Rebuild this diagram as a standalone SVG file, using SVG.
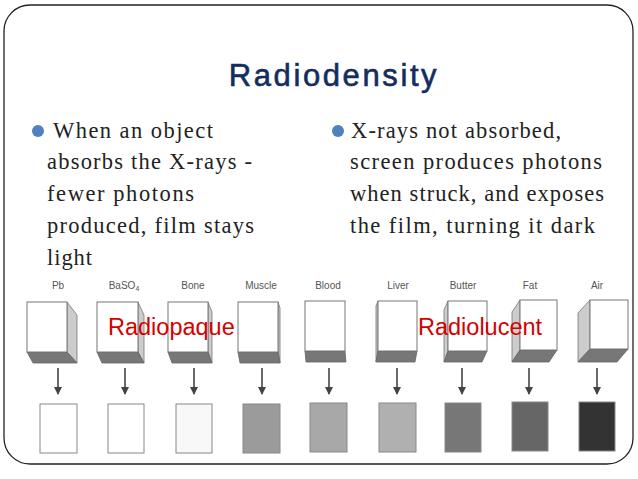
<svg xmlns="http://www.w3.org/2000/svg" width="638" height="479" viewBox="0 0 638 479">
<style>
.b{font-family:"Liberation Serif",serif;font-size:22.5px;fill:#222}
.lab{font-family:"Liberation Sans",sans-serif;font-size:10px;fill:#555;text-anchor:middle}
.red{font-family:"Liberation Sans",sans-serif;font-size:23.5px;fill:#d40000}
.fr{fill:#fff;stroke:#777;stroke-width:1}
.sd{fill:#ccc;stroke:#777;stroke-width:0.8}
.bt{fill:#777;stroke:#666;stroke-width:0.8}
.film{stroke:#888;stroke-width:1}
.ar{stroke:#444;stroke-width:1.6;marker-end:url(#ah)}
</style>
<defs><marker id="ah" markerWidth="8" markerHeight="8" refX="7" refY="4" orient="auto" markerUnits="userSpaceOnUse" viewBox="0 0 8 8"><path d="M0,0 L8,4 L0,8 z" fill="#444"/></marker></defs>
<rect width="638" height="479" fill="#fff"/>
<rect x="4" y="5" width="629" height="459" rx="26" fill="none" stroke="#222" stroke-width="1.3"/>
<text x="334" y="86" text-anchor="middle" font-family="Liberation Sans,sans-serif" font-size="31" fill="#132d5e" stroke="#132d5e" stroke-width="0.6" letter-spacing="2.6">Radiodensity</text>
<circle cx="38" cy="131" r="6" fill="#4f81bd"/>
<text class="b" x="53" y="138" textLength="160">When an object</text>
<text class="b" x="47" y="169" textLength="205">absorbs the X-rays -</text>
<text class="b" x="47" y="201" textLength="147">fewer photons</text>
<text class="b" x="47" y="233" textLength="207">produced, film stays</text>
<text class="b" x="47" y="265" textLength="45">light</text>
<circle cx="338" cy="131" r="6" fill="#4f81bd"/>
<text class="b" x="351" y="138" textLength="210">X-rays not absorbed,</text>
<text class="b" x="350" y="169" textLength="252">screen produces photons</text>
<text class="b" x="350" y="201" textLength="254">when struck, and exposes</text>
<text class="b" x="350" y="233" textLength="245">the film, turning it dark</text>
<g id="labels">
<text class="lab" x="58" y="289">Pb</text>
<text class="lab" x="124" y="289">BaSO<tspan font-size="7" dy="2">4</tspan></text>
<text class="lab" x="193" y="289">Bone</text>
<text class="lab" x="261" y="289">Muscle</text>
<text class="lab" x="328" y="289">Blood</text>
<text class="lab" x="398" y="289">Liver</text>
<text class="lab" x="463" y="289">Butter</text>
<text class="lab" x="530" y="289">Fat</text>
<text class="lab" x="597" y="289">Air</text>
</g>
<g id="cubes">
<g id="cube-pb"><path class="sd" d="M67,302 L77,315 L77,363 L67,352z"/><path class="bt" d="M27,352 L67,352 L77,363 L33,363z"/><rect class="fr" x="27" y="302" width="40" height="50"/></g>
<g id="cube-baso4"><path class="sd" d="M138,302 L144,315 L144,363 L138,352z"/><path class="bt" d="M97,352 L138,352 L144,363 L102,363z"/><rect class="fr" x="97" y="302" width="41" height="50"/></g>
<g id="cube-bone"><path class="sd" d="M208,302 L212,312 L212,363 L208,352z"/><path class="bt" d="M168,352 L208,352 L212,363 L172,363z"/><rect class="fr" x="168" y="302" width="40" height="50"/></g>
<g id="cube-muscle"><path class="sd" d="M278,302 L280,308 L280,363 L278,352z"/><path class="bt" d="M238,352 L278,352 L280,363 L240,363z"/><rect class="fr" x="238" y="302" width="40" height="50"/></g>
<g id="cube-blood"><path class="bt" d="M305,351 L345,351 L346,362 L306,362z"/><rect class="fr" x="305" y="301" width="40" height="50"/></g>
<g id="cube-liver"><path class="sd" d="M378,301 L376,306 L376,362 L378,351z"/><path class="bt" d="M378,351 L417,351 L415,362 L376,362z"/><rect class="fr" x="378" y="301" width="39" height="50"/></g>
<g id="cube-butter"><path class="sd" d="M448,301 L444,310 L444,362 L448,351z"/><path class="bt" d="M448,351 L487,351 L482,362 L444,362z"/><rect class="fr" x="448" y="301" width="39" height="50"/></g>
<g id="cube-fat"><path class="sd" d="M520,300 L512,312 L512,362 L520,350z"/><path class="bt" d="M520,350 L557,350 L549,362 L512,362z"/><rect class="fr" x="520" y="300" width="37" height="50"/></g>
<g id="cube-air"><path class="sd" d="M590,300 L578,313 L578,362 L590,349z"/><path class="bt" d="M590,349 L628,349 L617,362 L578,362z"/><rect class="fr" x="590" y="300" width="38" height="49"/></g>
</g>
<g id="connectors">
<line class="ar" x1="58" y1="368" x2="58" y2="394"/>
<line class="ar" x1="125" y1="368" x2="125" y2="394"/>
<line class="ar" x1="194" y1="368" x2="194" y2="394"/>
<line class="ar" x1="262" y1="368" x2="262" y2="394"/>
<line class="ar" x1="329" y1="368" x2="329" y2="394"/>
<line class="ar" x1="397" y1="368" x2="397" y2="394"/>
<line class="ar" x1="462" y1="368" x2="462" y2="394"/>
<line class="ar" x1="529" y1="368" x2="529" y2="394"/>
<line class="ar" x1="597" y1="368" x2="597" y2="394"/>
</g>
<g id="films">
<rect class="film" x="40" y="404" width="37" height="49" fill="#fff"/>
<rect class="film" x="108" y="404" width="36" height="49" fill="#fff"/>
<rect class="film" x="176" y="404" width="36" height="49" fill="#f8f8f8"/>
<rect class="film" x="243" y="404" width="37" height="49" fill="#9b9b9b"/>
<rect class="film" x="310" y="403" width="37" height="49" fill="#a8a8a8"/>
<rect class="film" x="379" y="403" width="37" height="49" fill="#b0b0b0"/>
<rect class="film" x="445" y="403" width="36" height="49" fill="#777"/>
<rect class="film" x="512" y="402" width="36" height="49" fill="#666"/>
<rect class="film" x="579" y="402" width="36" height="49" fill="#333"/>
</g>
<text class="red" x="108" y="335">Radiopaque</text>
<text class="red" x="418" y="335">Radiolucent</text>
</svg>
